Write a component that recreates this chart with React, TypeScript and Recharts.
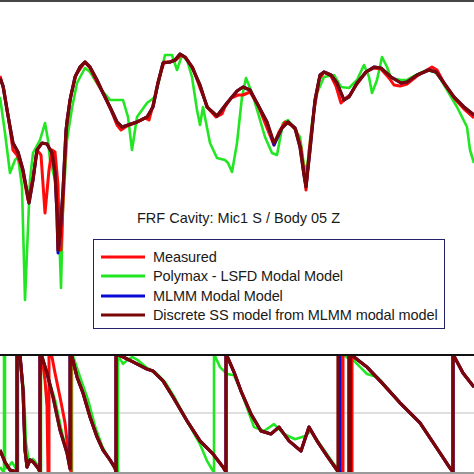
import React from "react";
import { LineChart, Line, XAxis, YAxis, ReferenceLine } from "recharts";

// ---------- data (frequency index, magnitude level; axis is reversed) ----------
const measuredMag: number[][] = [
  [0, 76], [4, 90], [8, 115], [13, 150], [17, 155], [22, 168], [28, 200], [33, 178], [37, 150], [41, 155],
  [45, 213], [49, 170], [52, 150], [55, 152], [58, 185], [59, 230], [61, 250], [64, 180], [67, 120], [71, 95],
  [76, 75], [85, 62], [90, 68], [97, 82], [104, 95], [111, 110], [117, 125], [121, 130], [127, 126], [137, 122],
  [145, 118], [149, 120], [153, 105], [158, 82], [164, 62], [170, 62], [176, 60], [181, 55], [186, 58], [193, 68],
  [200, 88], [208, 108], [216, 117], [222, 114], [225, 107], [231, 98], [238, 95], [243, 95], [250, 92], [258, 105],
  [267, 128], [274, 145], [279, 132], [285, 122], [291, 125], [296, 130], [301, 148], [305, 180], [306, 190], [309, 152],
  [314, 110], [319, 80], [324, 72], [331, 76], [336, 86], [341, 103], [346, 98], [350, 95], [357, 84], [366, 72],
  [374, 68], [381, 69], [389, 78], [394, 85], [400, 86], [407, 84], [417, 76], [427, 70], [432, 67], [437, 70],
  [445, 85], [455, 99], [465, 110], [474, 118],
];

const polymaxMag: number[][] = [
  [0, 97], [5, 133], [10, 173], [15, 160], [18, 157], [22, 187], [25, 300], [30, 180], [33, 153], [40, 140],
  [45, 123], [48, 140], [50, 160], [55, 180], [58, 200], [61, 288], [63, 207], [67, 140], [72, 108], [77, 83],
  [85, 68], [90, 72], [100, 88], [110, 100], [123, 100], [128, 117], [132, 150], [137, 117], [147, 103], [155, 97],
  [160, 77], [165, 55], [172, 55], [177, 70], [182, 55], [187, 60], [192, 77], [197, 110], [200, 125], [203, 107],
  [210, 143], [217, 158], [225, 160], [228, 163], [232, 172], [237, 143], [242, 97], [246, 78], [252, 93], [258, 113],
  [265, 137], [272, 153], [277, 155], [283, 123], [288, 120], [293, 127], [300, 137], [305, 173], [308, 160], [312, 123],
  [317, 93], [324, 77], [334, 75], [341, 87], [349, 88], [357, 80], [364, 65], [369, 77], [372, 93], [377, 80],
  [382, 57], [387, 67], [391, 78], [401, 80], [407, 80], [416, 75], [427, 70], [437, 73], [447, 90], [457, 107],
  [467, 127], [470, 150], [474, 163],
];

const mlmmMag: number[][] = [
  [0, 78], [3, 86], [7, 110], [13, 143], [18, 152], [23, 170], [29, 203], [33, 180], [37, 150], [42, 143],
  [47, 144], [52, 153], [55, 173], [57, 215], [58, 253], [60, 235], [63, 190], [66, 130], [70, 100], [75, 77],
  [80, 67], [85, 62], [90, 67], [97, 80], [103, 93], [110, 107], [117, 122], [122, 127], [128, 125], [137, 122],
  [147, 117], [153, 107], [158, 83], [163, 63], [170, 62], [175, 60], [180, 54], [185, 57], [192, 67], [200, 85],
  [207, 107], [217, 116], [227, 103], [237, 91], [243, 87], [250, 90], [258, 105], [267, 122], [274, 145], [282, 128],
  [288, 122], [295, 128], [300, 147], [304, 175], [306, 186], [310, 150], [315, 100], [320, 75], [324, 72], [331, 75],
  [337, 83], [344, 100], [349, 97], [357, 83], [366, 72], [374, 67], [381, 68], [391, 77], [401, 83], [407, 82],
  [417, 75], [429, 70], [436, 72], [444, 83], [454, 97], [464, 107], [474, 115],
];

const discreteMag: number[][] = [
  [0, 78], [3, 86], [7, 110], [13, 143], [18, 152], [23, 170], [29, 203], [33, 180], [37, 150], [42, 143],
  [47, 144], [52, 153], [55, 173], [57, 213], [58, 250], [60, 235], [63, 190], [66, 130], [70, 100], [75, 77],
  [80, 67], [85, 62], [90, 67], [97, 80], [103, 93], [110, 107], [117, 122], [122, 127], [128, 125], [137, 122],
  [147, 117], [153, 107], [158, 83], [163, 63], [170, 62], [175, 60], [180, 54], [185, 57], [192, 67], [200, 85],
  [207, 107], [217, 116], [227, 103], [237, 91], [243, 87], [250, 90], [258, 105], [267, 122], [274, 143], [282, 128],
  [288, 122], [295, 128], [300, 147], [304, 175], [306, 187], [310, 150], [315, 100], [320, 75], [324, 72], [331, 75],
  [337, 83], [344, 100], [349, 97], [357, 83], [366, 72], [374, 67], [381, 68], [391, 77], [401, 83], [407, 82],
  [417, 75], [429, 70], [436, 72], [444, 83], [454, 97], [464, 107], [474, 115],
];

// ---------- phase (degrees) ----------
const measuredPhase: number[][] = [
  [0, -113], [5, -150], [10, -174], [17, -180], [17, 180], [20, 177], [23, 70], [25, -113], [27, -165], [30, -143],
  [33, -149], [38, -168], [40, -180], [40, 180], [42, 171], [45, 100], [47, 20], [48, -180], [49, -180], [49, 180],
  [52, 171], [55, 122], [60, 49], [65, -30], [68, -113], [70, -165], [71, -180], [71, 180], [72, 171], [77, 110],
  [83, 61], [90, -12], [97, -73], [103, -113], [110, -143], [115, -168], [116, -180], [116, 180], [123, 171], [133, 156],
  [147, 134], [153, 128], [163, 98], [173, 49], [187, -24], [200, -85], [213, -125], [223, -165], [226, -180], [226, 180],
  [227, 174], [234, 125], [241, 67], [251, -3], [261, -55], [271, -64], [279, -43], [289, -85], [301, -116], [309, -43],
  [317, -85], [327, -131], [336, -170], [338, -180], [343, -180], [343, 180], [351, 178], [352, -180], [352, 180], [354, 171],
  [367, 140], [381, 95], [400, 31], [420, -30], [440, -122], [450, -168], [453, -180], [453, 180], [455, 168], [463, 122],
  [474, 79],
];

const polymaxPhase: number[][] = [
  [0, -165], [3, -178], [4, -180], [4, 180], [5, 180], [5, -170], [8, -165], [12, -150], [15, -165], [18, -180],
  [18, 180], [21, 150], [24, 60], [26, -90], [29, -150], [33, -140], [38, -160], [40, -170], [41, -180], [41, 180],
  [43, 165], [48, 110], [55, 40], [62, -60], [68, -130], [71, -170], [72, -180], [72, 180], [74, 165], [80, 110],
  [88, 40], [95, -40], [102, -100], [108, -135], [114, -160], [117, -170], [118, -180], [118, 180], [120, 165], [123, 150],
  [127, 160], [132, 171], [137, 163], [147, 137], [155, 125], [165, 95], [175, 45], [188, -30], [200, -95], [207, -146],
  [213, -177], [214, -180], [214, 180], [220, 140], [227, 119], [234, 115], [241, 67], [254, -43], [264, -55], [274, -34],
  [284, -64], [295, -80], [305, -70], [311, -55], [320, -95], [334, -156], [342, -180], [342, 180], [349, 165], [352, 165],
  [357, 150], [367, 119], [377, 110], [381, 98], [400, 31], [420, -30], [440, -122], [450, -168], [453, -180], [453, 180],
  [455, 168], [463, 122], [474, 79],
];

const mlmmPhase: number[][] = [
  [0, -113], [5, -150], [10, -174], [17, -180], [17, 180], [20, 177], [23, 70], [25, -113], [27, -165], [30, -143],
  [33, -149], [38, -168], [40, -180], [40, 180], [42, 171], [47, 122], [53, 49], [60, -52], [67, -122], [70, -170],
  [70, 180], [72, 171], [77, 110], [83, 61], [90, -12], [97, -73], [103, -113], [110, -143], [115, -168], [116, -180],
  [116, 180], [123, 171], [133, 156], [147, 134], [153, 128], [163, 98], [173, 49], [187, -24], [200, -85], [213, -125],
  [223, -165], [226, -180], [226, 180], [227, 174], [234, 125], [241, 67], [251, -3], [261, -55], [271, -64], [279, -43],
  [289, -85], [301, -116], [309, -43], [317, -85], [327, -131], [336, -170], [340, -180], [340, 180], [349, 178], [349, -180],
  [350, -180], [350, 180], [354, 171], [367, 140], [381, 95], [400, 31], [420, -30], [440, -122], [450, -168], [453, -180],
  [453, 180], [455, 168], [463, 122], [474, 79],
];

const discretePhase: number[][] = [
  [0, -113], [5, -150], [10, -174], [17, -180], [17, 180], [20, 177], [23, 70], [25, -113], [27, -165], [30, -143],
  [33, -149], [38, -168], [40, -180], [40, 180], [42, 171], [47, 122], [53, 49], [60, -52], [67, -122], [70, -170],
  [70, 180], [72, 171], [77, 110], [83, 61], [90, -12], [97, -73], [103, -113], [110, -143], [115, -168], [116, -180],
  [116, 180], [123, 171], [133, 156], [147, 134], [153, 128], [163, 98], [173, 49], [187, -24], [200, -85], [213, -125],
  [223, -165], [226, -180], [226, 180], [227, 174], [234, 125], [241, 67], [251, -3], [261, -55], [271, -64], [279, -43],
  [289, -85], [301, -116], [309, -43], [317, -85], [327, -131], [336, -170], [338, -180], [338, 180], [349, 178], [349, -180],
  [350, -180], [350, 180], [354, 171], [367, 140], [381, 95], [400, 31], [420, -30], [440, -122], [450, -168], [453, -180],
  [453, 180], [455, 168], [463, 122], [474, 79],
];

const seriesNames = [
  "Measured",
  "Polymax - LSFD Modal Model",
  "MLMM Modal Model",
  "Discrete SS model from MLMM modal model",
];
const seriesColors = ["#ff0a0a", "#22e622", "#0a0ad2", "#7a0606"];
const titleText = "FRF Cavity: Mic1 S / Body 05 Z";

const toPts = (a: number[][]) => a.map(([f, v]) => ({ f, v }));

const magSets = [measuredMag, polymaxMag, mlmmMag, discreteMag].map(toPts);
const phaseSets = [measuredPhase, polymaxPhase, mlmmPhase, discretePhase].map(toPts);
const drawOrder = [1, 0, 2, 3];
const widths = [3, 2.6, 3, 3.2];

const font = "'Liberation Sans', Arial, Helvetica, sans-serif";

export default function App() {
  return (
    <div
      style={{
        position: "absolute",
        left: 0,
        top: 0,
        width: 474,
        height: 474,
        background: "#ffffff",
        overflow: "hidden",
        fontFamily: font,
      }}
    >
      <div style={{ position: "absolute", left: 0, top: 0 }}>
        <LineChart width={474} height={352} margin={{ top: 0, right: 0, bottom: 0, left: 0 }}>
          <XAxis type="number" dataKey="f" domain={[0, 474]} hide allowDuplicatedCategory={false} />
          <YAxis type="number" domain={[0, 352]} reversed hide />
          {drawOrder.map((i) => (
            <Line
              key={i}
              data={magSets[i]}
              dataKey="v"
              name={seriesNames[i]}
              stroke={seriesColors[i]}
              strokeWidth={widths[i]}
              dot={false}
              type="linear"
              isAnimationActive={false}
              strokeLinejoin="round"
            />
          ))}
        </LineChart>
      </div>

      <div style={{ position: "absolute", left: 0, top: 354 }}>
        <LineChart width={474} height={118} margin={{ top: 0, right: 0, bottom: 0, left: 0 }}>
          <XAxis type="number" dataKey="f" domain={[0, 474]} hide allowDuplicatedCategory={false} />
          <YAxis type="number" domain={[-180, 180]} hide />
          <ReferenceLine y={0} stroke="#d4d4d4" strokeWidth={1.5} />
          {drawOrder.map((i) => (
            <Line
              key={i}
              data={phaseSets[i]}
              dataKey="v"
              name={seriesNames[i]}
              stroke={seriesColors[i]}
              strokeWidth={widths[i]}
              dot={false}
              type="linear"
              isAnimationActive={false}
              strokeLinejoin="round"
            />
          ))}
        </LineChart>
      </div>

      {/* frame lines */}
      <div style={{ position: "absolute", left: 0, top: 0, width: 474, height: 2, background: "#464646" }} />
      <div style={{ position: "absolute", left: 0, top: 354, width: 474, height: 1.5, background: "#111" }} />
      <div style={{ position: "absolute", left: 0, top: 472, width: 474, height: 2, background: "#9a9a9a" }} />

      {/* title */}
      <div
        style={{
          position: "absolute",
          left: 137,
          top: 208,
          fontSize: 14.5,
          color: "#1a1a1a",
          whiteSpace: "nowrap",
          lineHeight: "20px",
        }}
      >
        {titleText}
      </div>

      {/* legend */}
      <div
        style={{
          position: "absolute",
          left: 93,
          top: 239,
          width: 350,
          height: 88,
          border: "1.5px solid #23236b",
          background: "#ffffff",
        }}
      >
        {seriesNames.map((name, i) => (
          <div
            key={name}
            style={{
              position: "absolute",
              left: 6,
              top: 7 + i * 19.3,
              height: 20,
              display: "flex",
              alignItems: "center",
              whiteSpace: "nowrap",
            }}
          >
            <svg width={46} height={20} style={{ display: "block" }}>
              <line x1={1} y1={10} x2={45} y2={10} stroke={seriesColors[i]} strokeWidth={3} />
            </svg>
            <span style={{ marginLeft: 7, fontSize: 14.5, color: "#1a1a1a", letterSpacing: -0.1 }}>{name}</span>
          </div>
        ))}
      </div>
    </div>
  );
}
